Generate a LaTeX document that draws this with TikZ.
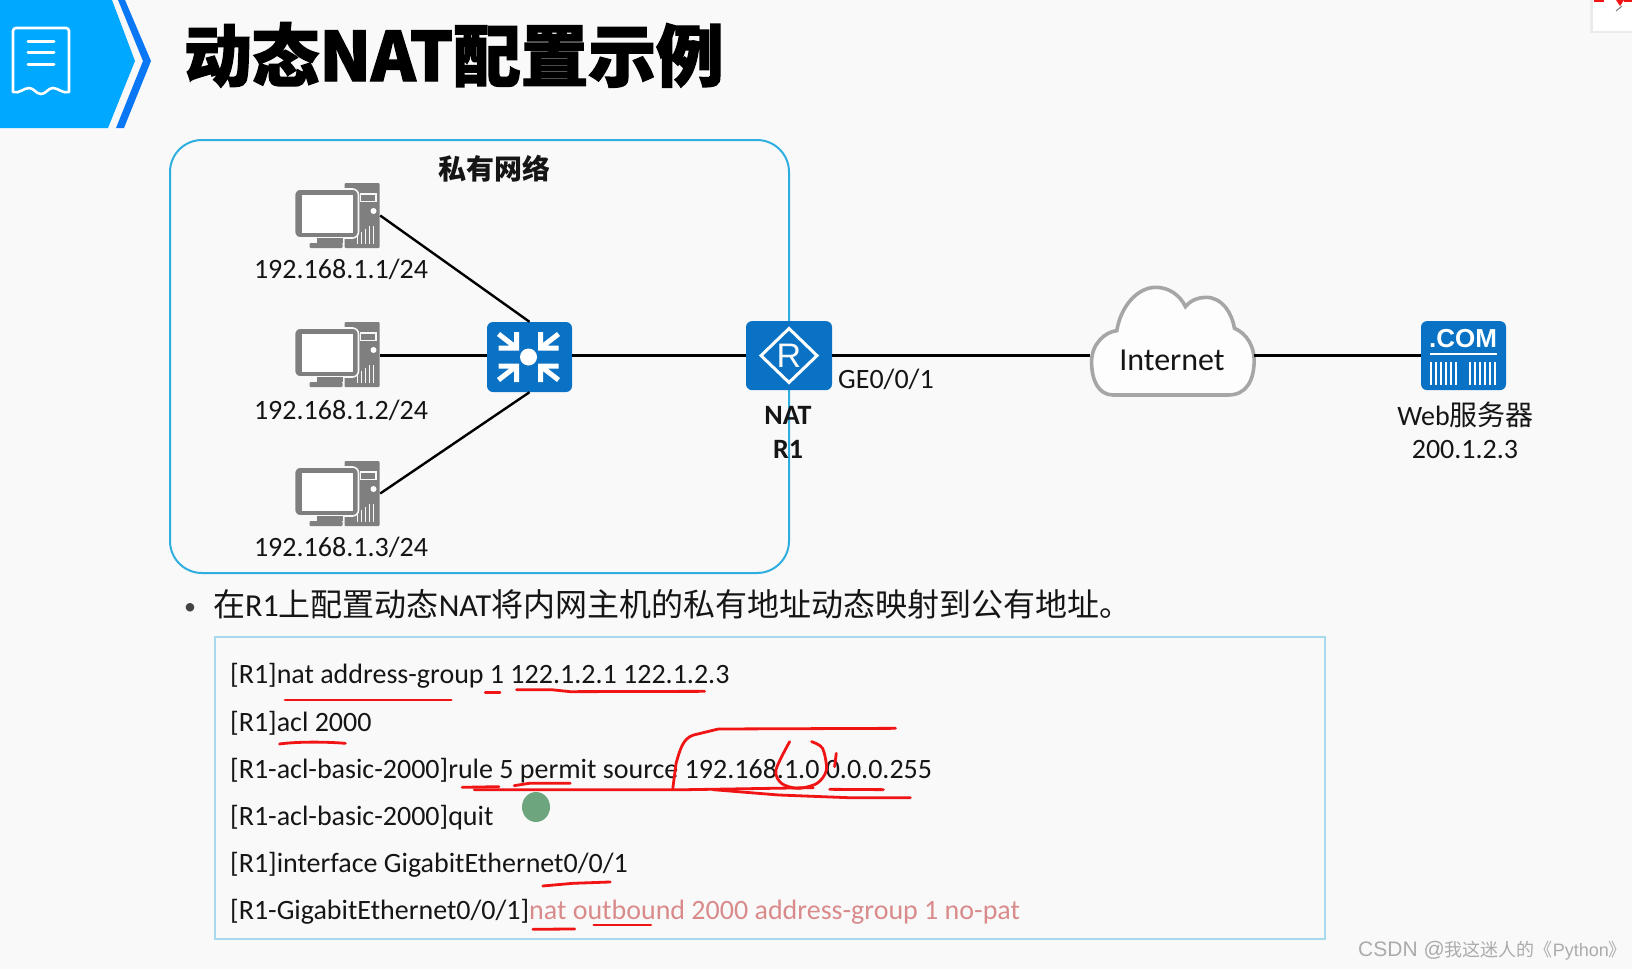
\documentclass[tikz,border=0pt]{standalone}
\usepackage{fontspec}
\setmainfont{Carlito}
\newfontfamily\cjk{Noto Sans CJK SC}
\newfontfamily\cjkt[BoldFeatures={FakeBold=2}]{Noto Sans CJK SC}
\newfontfamily\arial{Liberation Sans}
\newcommand{\fs}[1]{\fontsize{#1}{#1}\selectfont}
\definecolor{bg}{HTML}{F9F9FA}
\definecolor{hwblue}{HTML}{0A72C4}
\definecolor{bannerA}{HTML}{00A8FF}
\definecolor{bannerB}{HTML}{0A78F5}
\definecolor{boxblue}{HTML}{2FAEE0}
\definecolor{codeblue}{HTML}{A9D9EE}
\definecolor{pcgrey}{HTML}{7F7F7F}
\definecolor{ink}{HTML}{151515}
\definecolor{pinktxt}{HTML}{D98B8B}
\definecolor{redmark}{HTML}{F01414}
\definecolor{pointer}{HTML}{6DA67E}
\tikzset{
  link/.style={draw=black,line width=3pt},
  diag/.style={draw=black,line width=2.4pt},
  lab/.style={inner sep=0pt,anchor=base,text=ink,font=\fs{28}},
  code/.style={inner sep=0pt,anchor=base west,text=ink,font=\fs{28}},
  iconbox/.style={fill=hwblue,rounded corners=6pt,inner sep=0pt,minimum width=85pt},
  pcbox/.style={inner sep=0pt,minimum width=85pt,minimum height=65pt},
  inkmark/.style={draw=redmark,line width=2.8pt,line cap=round,line join=round},
}
\newcommand{\pcicon}[1]{%
  \begin{scope}[shift={(#1)}]
    \fill[pcgrey,rounded corners=1pt] (50,0) rectangle (85,65);
    \fill[bg] (65,10) rectangle (82,19);
    \fill[pcgrey] (66.5,11.5) rectangle (80.5,17.5);
    \fill[white] (79,28) circle (3pt);
    \foreach \xx/\yy in {63/52,67/49,71/46,75/43,79/43}{\draw[bg,line width=1.3pt] (\xx,\yy) -- (\xx,61);}
    \fill[pcgrey,draw=bg,line width=1.6pt,rounded corners=6pt] (0,6) rectangle (64,55);
    \fill[white] (7,12) rectangle (58,50);
    \fill[pcgrey] (22,55) rectangle (48,60);
    \fill[pcgrey,rounded corners=1pt] (15,60) rectangle (48,65);
  \end{scope}}
\newcommand{\swglyph}[2]{%
  \draw[white,line width=5pt,line cap=butt,line join=miter,shift={(528.5,357)},xscale=#1,yscale=#2] (12,-25) -- (12,-9) -- (30,-9) (12,-9) -- (30,-23);}
\begin{document}
\begin{tikzpicture}[x=1pt,y=-1pt]
\useasboundingbox (0,0) rectangle (1632,969);
\fill[bg] (0,0) rectangle (1632,969);
% banner
\fill[bannerA] (0,0) -- (112,0) -- (135,61) -- (108,128) -- (0,128) -- cycle;
\fill[bannerB] (118,0) -- (125,0) -- (151,61) -- (124,128) -- (116,128) -- (143,61) -- cycle;
\draw[white,line width=2.6pt,rounded corners=3pt] (13,92)  -- (13,28) -- (69,28) -- (69,92);
\draw[white,line width=2.6pt,line cap=round] (13,92) .. controls (19,94) and (24,88) .. (29,88) .. controls (34,88) and (36,94) .. (41,94) .. controls (46,94) and (48,88) .. (53,88) .. controls (58,88) and (63,94) .. (69,92);
\foreach \yy in {41,52,64}{\draw[white,line width=3pt,line cap=round] (28,\yy) -- (54,\yy);}
% title
\node[inner sep=0pt,anchor=base west,text=black] (title) at (184,81) {\fs{67.6}\cjkt\bfseries 动态NAT配置示例};
% top-right corner
\fill[black!8] (1590,0) rectangle (1632,33);
\fill[white] (1593,0) rectangle (1632,31);
\fill[redmark] (1594,0) rectangle (1604,2);
\fill[redmark] (1616,0) -- (1624,0) -- (1620,6) -- cycle;
\fill[redmark] (1624,0) rectangle (1632,2);
\draw[gray,line width=1pt] (1616,11) -- (1622,6);
% private net box
\draw[boxblue,line width=2pt,rounded corners=32pt] (170,140) rectangle (789,573);
\node[lab,font=\fs{28}\cjk\bfseries] (pn) at (494,179) {私有网络};
% icons
\node[pcbox] (pc1) at (337.5,215.5) {};
\node[pcbox] (pc2) at (337.5,355.6) {};
\node[pcbox] (pc3) at (337.5,493.5) {};
\pcicon{294.5,183}
\pcicon{294.5,322}
\pcicon{294.5,461}
\node[iconbox,minimum height=70pt,minimum width=85pt] (sw) at (529.5,357) {};
\node[iconbox,minimum height=69pt,minimum width=86pt] (r1) at (789,355.6) {};
\node[iconbox,minimum height=69pt,minimum width=85pt] (srv) at (1463.5,355.6) {};
% switch glyph
\fill[white] (528.5,357) circle (8.5pt);
\swglyph{1}{1}\swglyph{-1}{1}\swglyph{1}{-1}\swglyph{-1}{-1}
% router glyph
\draw[white,line width=3pt] (789,328.5) -- (817,355.6) -- (789,382.5) -- (761,355.6) -- cycle;
\node[inner sep=0pt,text=bg,font=\fs{34}\arial] (rr) at (789,355.6) {R};
% server glyph
\node[inner sep=0pt,text=white,font=\fs{26}\arial\bfseries] (com) at (1463,339) {.COM};
\draw[white,line width=1.6pt] (1430,354) -- (1497,354);
\foreach \xx in {0,5,10,15,20,25}{
  \draw[white,line width=1.5pt] (1431+\xx,362) -- (1431+\xx,385);
  \draw[white,line width=1.5pt] (1470+\xx,362) -- (1470+\xx,385);}
% cloud
\begin{scope}[shift={(1050,260)},x=0.3712pt,y=-0.3333pt]
\draw[fill=white!60!bg,draw=black!35,line width=3.6pt]
 (112,305) .. controls (112,250) and (150,215) .. (180,212)
 .. controls (190,140) and (235,82) .. (285,82)
 .. controls (320,82) and (350,105) .. (365,140)
 .. controls (380,120) and (400,112) .. (420,112)
 .. controls (465,112) and (490,160) .. (497,205)
 .. controls (530,220) and (550,260) .. (550,300)
 .. controls (550,360) and (530,405) .. (480,405)
 -- (170,405)
 .. controls (130,405) and (112,360) .. (112,305) -- cycle;
\end{scope}
\node[inner sep=0pt,anchor=base,minimum width=163pt,text=ink,font=\fs{32}] (cloud) at (1172,370) {Internet};
% connectors
\draw[diag] (pc1.east) -- (sw.north);
\draw[link] (pc2.east) -- (pc2.east -| sw.west);
\draw[diag] (pc3.east) -- (sw.south);
\draw[link] (r1.west) -- (r1.west -| sw.east);
\draw[link] (r1.east) -- (r1.east -| cloud.west);
\draw[link] (srv.west) -- (srv.west -| cloud.east);
% labels
\node[lab] (l1) at (341,278) {192.168.1.1/24};
\node[lab] (l2) at (341,419) {192.168.1.2/24};
\node[lab] (l3) at (341,556) {192.168.1.3/24};
\node[inner sep=0pt,anchor=base west,text=ink,font=\fs{28}] (ge) at (838,388) {GE0/0/1};
\node[lab,font=\fs{28}\bfseries] (nat) at (788,424) {NAT};
\node[lab,font=\fs{28}\bfseries] (rone) at (788,458) {R1};
\node[lab] (web) at (1465.5,425) {Web{\cjk 服务器}};
\node[lab] (ip) at (1465,458) {200.1.2.3};
% bullet
\node[inner sep=0pt,anchor=base,text=ink!80,font=\fs{24}] (bul) at (190,614) {•};
\node[inner sep=0pt,anchor=base west,text=ink,font=\fs{32}] (bt) at (213,616) {{\cjk 在}R1{\cjk 上配置动态}NAT{\cjk 将内网主机的私有地址动态映射到公有地址。}};
% code box
\draw[codeblue,line width=2pt] (215,637) rectangle (1325,939);
\node[code] (c1) at (230,683) {[R1]nat address-group 1 122.1.2.1 122.1.2.3};
\node[code] (c2) at (230,731.5) {[R1]acl 2000};
\node[code] (c3) at (230,778) {[R1-acl-basic-2000]rule 5 permit source 192.168.1.0 0.0.0.255};
\node[code] (c4) at (230,825.5) {[R1-acl-basic-2000]quit};
\node[code] (c5) at (230,872.5) {[R1]interface GigabitEthernet0/0/1};
\node[code] (c6) at (230,919) {[R1-GigabitEthernet0/0/1]\textcolor{pinktxt}{nat outbound 2000 address-group 1 no-pat}};
% green pointer
\fill[pointer] (536,807) ellipse (14pt and 15pt);
% red marks
\begin{scope}[shift={(200,620)},x=0.5485pt,y=-0.3333pt]
\draw[inkmark] (155,240) -- (458,240);
\draw[inkmark] (520,218) -- (547,218);
\draw[inkmark] (577,209) -- (640,209) -- (675,215) -- (920,214);
\draw[inkmark] (145,372) .. controls (170,366) and (220,364) .. (265,370);
\draw[inkmark] (478,502) -- (545,500);
\draw[inkmark] (573,497) -- (600,490) -- (675,490);
\draw[inkmark] (500,509) -- (890,509) -- (1118,503);
\draw[inkmark] (935,509) -- (1055,525) -- (1180,533) -- (1295,533);
\draw[inkmark] (862,505) -- (868,430) .. controls (875,390) and (880,355) .. (900,345) -- (945,327) -- (1268,325);
\draw[inkmark] plot[smooth] coordinates {(1075,365) (1050,450) (1060,490) (1090,505) (1125,490) (1142,450) (1135,385) (1115,365)};
\draw[inkmark] (1160,400) -- (1157,440);
\draw[inkmark] (1148,508) -- (1246,509);
\draw[inkmark] (625,798) -- (680,790) -- (748,786);
\draw[inkmark] (607,928) -- (683,927);
\draw[inkmark] (718,915) -- (822,915);
\end{scope}
% watermark
\node[inner sep=0pt,anchor=base west,text=black!33,font=\fs{21}\arial] (wm) at (1358,956) {CSDN @{\fs{18}\cjk 我这迷人的《}{\fs{18}Python}{\fs{18}\cjk 》}};
\end{tikzpicture}
\end{document}
